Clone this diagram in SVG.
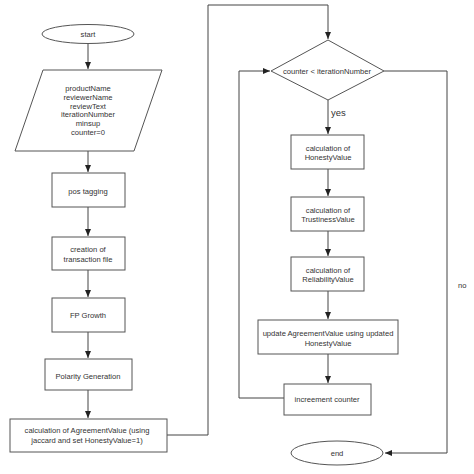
<svg xmlns="http://www.w3.org/2000/svg" width="474" height="474" viewBox="0 0 474 474">
<defs>
<style>
.n{fill:#fff;stroke:#555;stroke-width:1}
.c{fill:none;stroke:#444;stroke-width:1}
.t{font-family:"Liberation Sans",Arial,sans-serif;font-size:7.6px;fill:#333;text-anchor:middle;dominant-baseline:central}
.l{font-family:"Liberation Sans",Arial,sans-serif;fill:#333}
</style>
<marker id="a" markerWidth="8" markerHeight="8" refX="7" refY="4" orient="auto" markerUnits="userSpaceOnUse">
<path d="M0,1 L7,4 L0,7 Z" fill="#222"/>
</marker>
</defs>
<rect width="474" height="474" fill="#fff"/>
<g id="connectors">
<path class="c" d="M88,43.5 V69" marker-end="url(#a)"/>
<path class="c" d="M88,151 V172" marker-end="url(#a)"/>
<path class="c" d="M88,207 V236" marker-end="url(#a)"/>
<path class="c" d="M88,270 V297" marker-end="url(#a)"/>
<path class="c" d="M88,332 V358" marker-end="url(#a)"/>
<path class="c" d="M88,390 V418" marker-end="url(#a)"/>
<path class="c" d="M167,435 H208 V5 H328 V39" marker-end="url(#a)"/>
<path class="c" d="M328,100 V134" marker-end="url(#a)"/>
<path class="c" d="M328,169 V196" marker-end="url(#a)"/>
<path class="c" d="M328,231 V256" marker-end="url(#a)"/>
<path class="c" d="M328,291 V319" marker-end="url(#a)"/>
<path class="c" d="M328,354 V383" marker-end="url(#a)"/>
<path class="c" d="M284,398 H239 V71 H270" marker-end="url(#a)"/>
<path class="c" d="M384,71 H447 V453 H385" marker-end="url(#a)"/>
<text class="l" x="331" y="116" font-size="9.5">yes</text>
<text class="l" x="458" y="288" font-size="7.6">no</text>
</g>
<g id="start"><ellipse class="n" cx="88" cy="34" rx="46" ry="9.5"/><text class="t" x="88" y="34">start</text></g>
<g id="input"><polygon class="n" points="43,70 162,70 134,151 15,151"/>
<text class="t" x="88" y="88">productName</text>
<text class="t" x="88" y="97">reviewerName</text>
<text class="t" x="88" y="106">reviewText</text>
<text class="t" x="88" y="114.5">iterationNumber</text>
<text class="t" x="88" y="123.5">minsup</text>
<text class="t" x="88" y="132">counter=0</text></g>
<g id="pos"><rect class="n" x="52" y="173" width="73" height="34"/><text class="t" x="88" y="191.5">pos tagging</text></g>
<g id="trans"><rect class="n" x="52" y="237" width="73" height="33"/><text class="t" x="88" y="249.5">creation of</text><text class="t" x="88" y="259">transaction file</text></g>
<g id="fp"><rect class="n" x="52" y="298" width="73" height="34"/><text class="t" x="88" y="315">FP Growth</text></g>
<g id="polarity"><rect class="n" x="45" y="359" width="87" height="31"/><text class="t" x="88" y="376">Polarity Generation</text></g>
<g id="agreement"><rect class="n" x="10" y="419" width="157" height="33"/><text class="t" x="87" y="430.5">calculation of AgreementValue (using</text><text class="t" x="87" y="440">jaccard and set HonestyValue=1)</text></g>
<g id="decision"><polygon class="n" points="328,40 384,71 328,100 271,71"/><text class="t" x="327" y="71">counter &lt; iterationNumber</text></g>
<g id="honesty"><rect class="n" x="291" y="135" width="73" height="34"/><text class="t" x="328" y="148">calculation of</text><text class="t" x="328" y="157.5">HonestyValue</text></g>
<g id="trust"><rect class="n" x="291" y="197" width="73" height="34"/><text class="t" x="328" y="210">calculation of</text><text class="t" x="328" y="219.5">TrustinessValue</text></g>
<g id="reliab"><rect class="n" x="291" y="257" width="73" height="34"/><text class="t" x="328" y="270">calculation of</text><text class="t" x="328" y="279.5">ReliabilityValue</text></g>
<g id="update"><rect class="n" x="258" y="320" width="140" height="34"/><text class="t" x="328" y="333.5">update AgreementValue using updated</text><text class="t" x="328" y="343">HonestyValue</text></g>
<g id="increment"><rect class="n" x="284" y="384" width="87" height="31"/><text class="t" x="327" y="399">increement counter</text></g>
<g id="end"><ellipse class="n" cx="337" cy="453" rx="46" ry="12"/><text class="t" x="337" y="453">end</text></g>
</svg>
